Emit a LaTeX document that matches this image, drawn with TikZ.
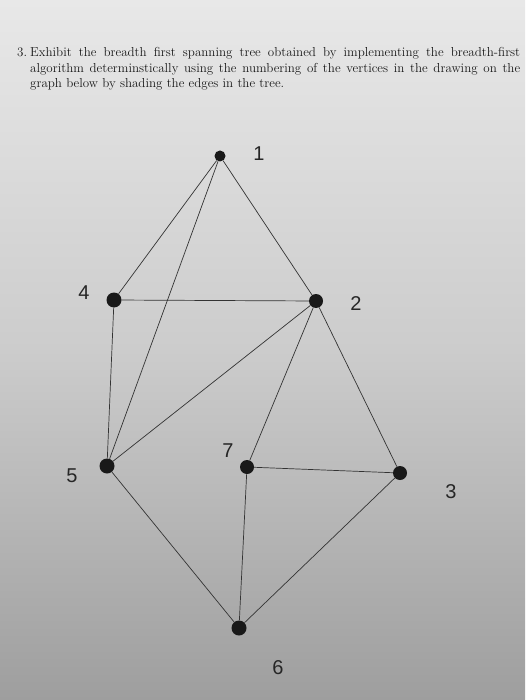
\documentclass[tikz,border=0pt]{standalone}
\usepackage{fontspec}
\newfontfamily\labelfont{Liberation Sans}
\begin{document}
\begin{tikzpicture}[x=1pt,y=-1pt,
  vtx/.style={circle,fill=black!90,inner sep=0pt,minimum size=14pt},
  edge/.style={draw=black!80,line width=0.7pt},
  lbl/.style={font=\labelfont\fontsize{20}{20}\selectfont,text=black!85,inner sep=0pt},
  hdr/.style={anchor=base west,inner sep=0pt,font=\fontsize{13}{15.5}\selectfont,text=black!90}]
\useasboundingbox (0,0) rectangle (525,700);
\shade[top color=black!9,bottom color=black!38,middle color=black!20] (0,0) rectangle (525,700);
% header text
\node[hdr] (num) at (17,57) {3.};
\node[hdr] (question) at (30,57)
 {\parbox[t]{490pt}{\fontsize{13}{15.5}\selectfont Exhibit the breadth first spanning tree obtained by implementing the breadth-first\linebreak algorithm determinstically using the numbering of the vertices in the drawing on the\linebreak graph below by shading the edges in the tree.}};
% vertices
\node[vtx,minimum size=11pt] (v1) at (220,156) {};
\node[vtx,minimum size=15pt] (v4) at (114,300) {};
\node[vtx] (v2) at (316,301) {};
\node[vtx,minimum size=15pt] (v5) at (107,466) {};
\node[vtx] (v7) at (247,467) {};
\node[vtx] (v3) at (400,473) {};
\node[vtx,minimum size=15pt] (v6) at (239,628) {};
% labels
\node[lbl] (l1) at (259,154) {1};
\node[lbl] (l4) at (84,293) {4};
\node[lbl] (l2) at (356,304) {2};
\node[lbl] (l5) at (72,476) {5};
\node[lbl] (l7) at (228,451) {7};
\node[lbl] (l3) at (451,492) {3};
\node[lbl] (l6) at (278,668) {6};
% edges
\draw[edge] (v1) -- (v4);
\draw[edge] (v1) -- (v5);
\draw[edge] (v1) -- (v2);
\draw[edge] (v4) -- (v2);
\draw[edge] (v4) -- (v5);
\draw[edge] (v5) -- (v2);
\draw[edge] (v2) -- (v7);
\draw[edge] (v2) -- (v3);
\draw[edge] (v7) -- (v3);
\draw[edge] (v7) -- (v6);
\draw[edge] (v5) -- (v6);
\draw[edge] (v6) -- (v3);
\end{tikzpicture}
\end{document}
